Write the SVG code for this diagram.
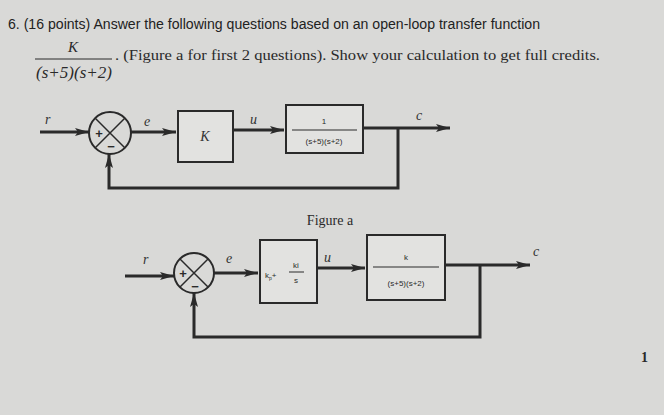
<svg xmlns="http://www.w3.org/2000/svg" width="664" height="415" viewBox="0 0 664 415">
<defs><marker id="a" viewBox="0 0 14 8" refX="14" refY="4" markerWidth="14" markerHeight="8" orient="auto" markerUnits="userSpaceOnUse"><path d="M0,0 L14,4 L0,8 L3,4 z" fill="#2a2a2a"/></marker></defs>
<style>
.ln{stroke:#2a2a2a;stroke-width:3;fill:none}
.bx{stroke:#2a2a2a;stroke-width:2;fill:#e2e2e0}
.sm{fill:#2a2a2a;font-family:"Liberation Sans",sans-serif;font-size:8px}
.lb{fill:#333;font-family:"Liberation Serif",serif;font-style:italic;font-size:14px}
.sv{fill:#2a2a2a;font-family:"Liberation Serif",serif}
.sg{fill:#2a2a2a;font-family:"Liberation Sans",sans-serif;font-size:13px;font-weight:bold}
</style>
<rect width="664" height="415" fill="#d9d9d7"/>
<text x="8" y="29" fill="#222" font-family="Liberation Sans,sans-serif" font-size="14" textLength="532" lengthAdjust="spacingAndGlyphs">6.  (16 points) Answer the following questions based on an open-loop transfer function</text>
<text x="73" y="52" class="sv" font-size="15" font-style="italic" text-anchor="middle">K</text>
<line x1="35" y1="59" x2="112" y2="59" stroke="#2a2a2a" stroke-width="1"/>
<text x="36" y="78" class="sv" font-size="16" font-style="italic" textLength="76" lengthAdjust="spacingAndGlyphs">(s+5)(s+2)</text>
<text x="115" y="60" class="sv" font-size="14" textLength="485" lengthAdjust="spacingAndGlyphs">. (Figure a for first 2 questions). Show your calculation to get full credits.</text>
<g id="connectors">
<path class="ln" d="M40,132 H89" marker-end="url(#a)"/>
<path class="ln" d="M131,132 H176" marker-end="url(#a)"/>
<path class="ln" d="M233,130 H284" marker-end="url(#a)"/>
<path class="ln" d="M363,128 H450" marker-end="url(#a)"/>
<path class="ln" d="M398,128 V188 H109 V154" marker-end="url(#a)"/>
<path class="ln" d="M125,276 H174" marker-end="url(#a)"/>
<path class="ln" d="M214,273 H258" marker-end="url(#a)"/>
<path class="ln" d="M317,268 H365" marker-end="url(#a)"/>
<path class="ln" d="M445,265 H530" marker-end="url(#a)"/>
<path class="ln" d="M480,265 V337 H194 V293" marker-end="url(#a)"/>
</g>
<g id="sum1"><circle cx="110" cy="133" r="21" fill="none" stroke="#2a2a2a" stroke-width="2"/><path d="M95,118 L125,148 M125,118 L95,148" stroke="#2a2a2a" stroke-width="1.5"/><text x="99" y="138" class="sg" text-anchor="middle">+</text><text x="111" y="151" class="sg" text-anchor="middle">−</text></g>
<g id="K1"><rect class="bx" x="178" y="111" width="55" height="51"/><text x="205" y="141" class="lb" font-size="15" text-anchor="middle">K</text></g>
<g id="G1"><rect class="bx" x="286" y="105" width="77" height="48"/><text x="324" y="124" class="sm" font-size="6" text-anchor="middle">1</text><line x1="292" y1="130" x2="357" y2="130" stroke="#2a2a2a" stroke-width="1.2"/><text x="324" y="144" class="sm" font-size="6" text-anchor="middle">(s+5)(s+2)</text></g>
<text x="45" y="124" class="lb">r</text><text x="144" y="126" class="lb">e</text><text x="250" y="124" class="lb">u</text><text x="416" y="120" class="lb">c</text>
<text x="330" y="225" class="sv" font-size="14" text-anchor="middle">Figure a</text>
<g id="sum2"><circle cx="194" cy="273" r="20" fill="none" stroke="#2a2a2a" stroke-width="2"/><path d="M180,259 L208,287 M208,259 L180,287" stroke="#2a2a2a" stroke-width="1.5"/><text x="183" y="278" class="sg" text-anchor="middle">+</text><text x="195" y="291" class="sg" text-anchor="middle">−</text></g>
<g id="PI"><rect class="bx" x="260" y="240" width="57" height="63"/><text x="265" y="278" class="sm">k<tspan font-size="5" dy="2">p</tspan><tspan dy="-2">+</tspan></text><text x="296" y="268" class="sm" font-size="7" text-anchor="middle">ki</text><line x1="289" y1="272" x2="304" y2="272" stroke="#2a2a2a" stroke-width="1"/><text x="296" y="283" class="sm" font-size="7" text-anchor="middle">s</text></g>
<g id="G2"><rect class="bx" x="367" y="235" width="78" height="65"/><text x="406" y="260" class="sm" font-size="7" text-anchor="middle">k</text><line x1="373" y1="267" x2="439" y2="267" stroke="#2a2a2a" stroke-width="1.2"/><text x="406" y="286" class="sm" font-size="7" text-anchor="middle">(s+5)(s+2)</text></g>
<text x="143" y="264" class="lb">r</text><text x="226" y="263" class="lb" font-size="15">e</text><text x="324" y="262" class="lb">u</text><text x="533" y="256" class="lb">c</text>
<text x="641" y="362" class="sv" font-size="14" font-weight="bold">1</text>
</svg>
